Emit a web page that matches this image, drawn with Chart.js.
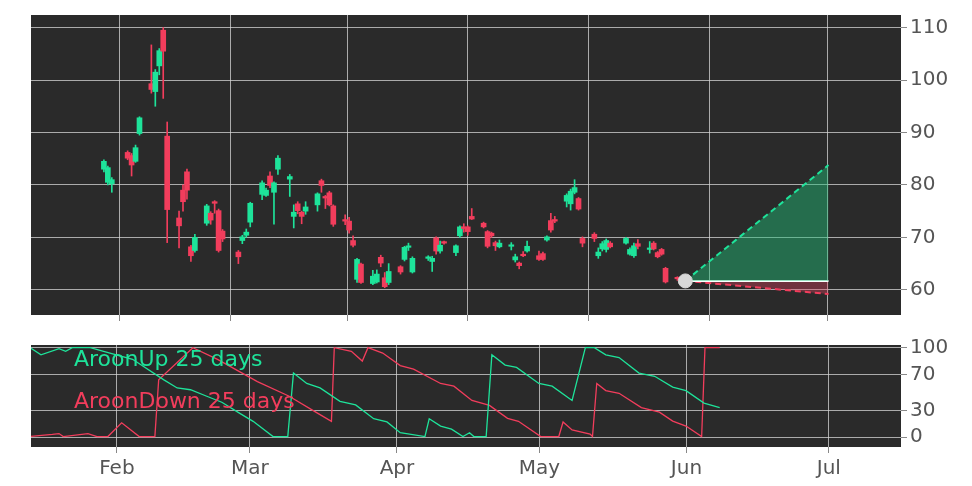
<!DOCTYPE html>
<html><head><meta charset="utf-8">
<script src="https://cdn.jsdelivr.net/npm/chart.js@4.4.1/dist/chart.umd.min.js"></script>
<style>html,body{margin:0;padding:0;background:#fff;width:972px;height:486px;overflow:hidden}
#c1{position:absolute;left:0;top:0}#c2{position:absolute;left:0;top:330px}</style>
</head><body>
<canvas id="c1" width="972" height="330"></canvas>
<canvas id="c2" width="972" height="156"></canvas>
<script>
// day number = days since Jan 1
const days  =[13,14,15,19,20,21,22,25,26,27,28,29,32,33,34,35,36,39,40,41,42,43,47,48,49,50,53,54,55,56,57,60,61,62,63,64,67,68,69,70,71,74,75,76,77,78,81,82,83,84,85,88,89,90,91,95,96,97,98,99,102,103,104,105,106,109,110,111,112,113,116,117,118,119,120,123,124,125,126,127,130,131,132,133,134,137,138,139,140,141,145,146,147,148,151,152,153,154,155,158];
const opens =[83,80.5,80.2,86.2,85.6,84.5,89.8,99.3,97.8,102.7,109.5,89.3,73.7,79,82.5,68.2,67.5,72.7,74.6,76.8,75.1,71.2,67.2,69.4,70.4,72.9,78.2,78,81.7,78.6,83,81.1,74,76.4,74.8,75,76.2,80.8,77.8,78.5,76,73.3,73.1,69.4,62,64.9,61.2,61.5,66.2,62.3,61.4,64.4,65.8,68.1,63.4,66,65.4,69.9,67.4,69.1,67.1,70.3,72,72,74,72.7,71.1,70.8,69,68.2,68.3,65.7,65.1,66.7,67.4,66.5,66.9,69.5,73.2,73.4,76.9,76.4,78.6,77.4,69.8,70.6,66.5,67.8,67.7,68.9,68.9,66.8,66.5,68.8,67.7,68.9,67.1,67.7,64.1,62.2];
const highs =[84.8,83.6,81.4,86.5,86,87.6,93,106.7,102,106,110,92,75,80,83,68.5,70.6,76.3,74.9,77,75.4,71.5,67.5,70.4,71.6,76.7,80.8,79.4,82.5,80.6,85.6,82,76.2,76.8,75,76.8,78.5,81.1,78,78.8,76.2,74.3,73.8,70.3,66,65.1,63.7,63.8,66.6,63.3,65,64.6,68.3,68.9,66.3,66.5,66.4,70.1,69.3,69.3,68.6,72.2,72.6,72.2,75.5,72.9,71.3,71,69.3,69.5,69,66.8,65.3,67.3,69.3,67.4,67.2,70.3,74.6,74,78.3,79.2,81,77.6,70.1,70.9,68,69.2,69.7,69.2,70,68,68.9,69.6,69.2,69.2,67.3,67.9,64.3,62.5];
const lows  =[82.5,80,78.6,84.8,81.7,84.3,89.5,97.5,95,101,96.5,69,68,75,77.3,65.4,67.2,72.3,72.5,74.6,67.2,69.2,65,68.8,70,72,77.2,77.8,79.5,72.5,82,77.8,71.8,74.5,72.6,74.4,75,78.6,75.5,76,72.1,72.4,70.8,68.2,61.4,61.2,61,61.3,64.4,60.4,61,63,65.5,67.5,63.2,65.6,63.5,66.8,67,68.7,66.5,70,71,70.4,73.4,71.8,68,70,67.5,68,67.6,65.3,64,66.3,67.2,65.6,65.6,69.3,71,72.8,75.8,75.2,78.3,75.2,68.2,69.2,66,67.4,67.2,68,68.7,66.6,66.2,67.8,67,67.6,66.1,66.6,61.3,61.8];
const closes=[84.5,83.3,81,85.1,83.8,87.1,92.8,98.2,101.5,105.6,105.5,75.3,72.2,76.8,79,66.5,70,76,73.3,76.5,67.5,69.7,66.3,70.1,71,76.5,80.4,79,79.9,80.4,85.1,81.6,74.8,75.1,74,75.8,78.3,79.9,77.5,76.2,72.5,73.1,71.4,68.5,65.8,61.4,62.6,63,65.1,60.6,63.5,63.4,68.1,68.2,66,66.2,66,67.4,68.5,68.9,68.4,72,71.7,71.1,73.5,72,68.3,70.3,68.4,68.9,68.4,66.3,64.6,66.5,68.3,65.8,65.8,70.1,71.4,73.1,78,78.8,79.5,75.4,68.9,69.8,67.2,68.8,69.4,68.2,69.8,67.7,68.4,68.3,67.8,67.8,66.3,66.8,61.5,62.1];
// forecast
const fcDays=[160,196.2];
const fcUpper=[61.7,83.8];
const fcMid=[61.7,61.7];
const fcLower=[61.7,59.2];
// Aroon
const upDays=[12.7,15,18.8,20.2,21.6,25.4,28.2,34.3,40.9,43.7,46.5,49.8,53.1,56.9,59.7,63.9,67,68.2,71,73.8,78,81.3,85.1,87.9,90.7,95.9,96.8,99.2,101.5,103.9,105.3,106.2,108.8,110,112.8,115.2,119.9,122.7,126.9,129.7,131.6,134,136.8,141,144.3,148.1,150.9,154.7,158];
const upVals=[100,92,99,96,100,100,96,87,64,55,53,46,39,26.6,17.7,0.7,0.7,71.6,60,55,40,36,20.6,17,5,0.7,20.6,12.4,8.9,0.7,5,0.7,0.7,92,80.5,78,60,57,41,100,100,92,89,71.6,68,56,52,38,33];
const dnDays=[12.7,17.4,18.8,19.7,24.9,26.8,29.1,32,35.7,39,39.8,47,52.2,60.6,67.2,72.9,76.2,76.8,80.4,82.7,83.9,87,90.7,93.5,99.2,102,105.8,109.5,113.3,115.6,120.3,124.1,125,126.9,130.7,131.2,132.1,134,136.8,141.5,145.3,148.1,150.9,154.2,154.9,158];
const dnVals=[0.7,3,4,0.7,4,0.7,0.7,16,0.7,0.7,64,100,87,62,46,28,17.7,100,96,85,100,94,80,76,60,57,41,35.5,21,17.7,0.7,0.7,17,8,3.5,0.7,60,52,49,33,28,18,12.4,0.7,100,100];
const monthTicks=[31,59,90,120,151,181];
const monthLabels=['Feb','Mar','Apr','May','Jun','Jul'];
const priceTicks=[60,70,80,90,100,110];
const aroonTicks=[0,30,70,100];

const GREEN='#1ee39a', RED='#f23d5c', TXT='#555';
const bg={id:'bg',beforeDraw(c){const a=c.chartArea,x=c.ctx;x.save();x.fillStyle='#2a2a2a';x.fillRect(a.left,a.top,a.right-a.left,a.bottom-a.top);x.restore();}};
const grid={color:'rgba(215,215,215,0.75)',borderDash:[4,3],lineWidth:1,drawTicks:true,tickLength:6,tickColor:'#888',tickBorderDash:[]};
const col=days.map((d,i)=>closes[i]>=opens[i]?GREEN:RED);
const xMin=12.9,xMax=196.2;
function xScale(showLabels,h){return {type:'linear',min:xMin,max:xMax,afterBuildTicks:s=>{s.ticks=monthTicks.map(v=>({value:v}));},
  grid:grid,border:{display:false},afterFit:s=>{s.height=h;},
  ticks:{display:showLabels,color:TXT,font:{size:20,family:'DejaVu Sans'},padding:4,autoSkip:false,maxRotation:0,callback:v=>{const i=monthTicks.indexOf(v);return i>=0?monthLabels[i]:'';}}};}
function yScale(min,max,ticks){return {position:'right',min:min,max:max,afterBuildTicks:s=>{s.ticks=ticks.map(v=>({value:v}));},
  grid:grid,border:{display:false},afterFit:s=>{s.width=71;},
  ticks:{color:TXT,font:{size:20,family:'DejaVu Sans'},padding:3}};}

new Chart(document.getElementById('c1'),{
  data:{datasets:[
    {type:'bar',data:days.map((d,i)=>({x:d,y:[lows[i],highs[i]]})),backgroundColor:col,barThickness:1,grouped:false,order:3},
    {type:'bar',data:days.map((d,i)=>({x:d,y:[opens[i],closes[i]]})),backgroundColor:col,barThickness:5,grouped:false,minBarLength:1.5,order:2},
    {type:'line',data:fcDays.map((d,i)=>({x:d,y:fcUpper[i]})),borderColor:GREEN,borderDash:[6,4],borderWidth:2,pointRadius:0,fill:'+1',backgroundColor:'rgba(30,190,120,0.45)',order:1},
    {type:'line',data:fcDays.map((d,i)=>({x:d,y:fcMid[i]})),borderColor:'#ffffff',borderWidth:2,pointRadius:0,fill:false,order:1},
    {type:'line',data:fcDays.map((d,i)=>({x:d,y:fcLower[i]})),borderColor:RED,borderDash:[6,4],borderWidth:2,pointRadius:0,fill:'-1',backgroundColor:'rgba(240,70,100,0.35)',order:1},
    {type:'scatter',data:[{x:fcDays[0],y:fcMid[0]}],pointRadius:7,backgroundColor:'#d8d8d8',borderColor:'#d8d8d8',order:0}
  ]},
  options:{responsive:false,animation:false,devicePixelRatio:1,
    layout:{padding:{left:31,top:15,right:0,bottom:0}},
    plugins:{legend:{display:false},tooltip:{enabled:false}},
    scales:{x:xScale(false,7),y:yScale(55.2,112.4,priceTicks)}},
  plugins:[bg]
});

new Chart(document.getElementById('c2'),{
  data:{datasets:[
    {type:'line',data:upDays.map((d,i)=>({x:d,y:upVals[i]})),borderColor:GREEN,borderWidth:1.3,pointRadius:0,tension:0},
    {type:'line',data:dnDays.map((d,i)=>({x:d,y:dnVals[i]})),borderColor:RED,borderWidth:1.3,pointRadius:0,tension:0}
  ]},
  options:{responsive:false,animation:false,devicePixelRatio:1,
    layout:{padding:{left:31,top:8,right:0,bottom:0}},
    plugins:{legend:{display:false},tooltip:{enabled:false}},
    scales:{x:xScale(true,39),y:yScale(-11,103,aroonTicks)}},
  plugins:[bg,{id:'lbl',afterDatasetsDraw(c){const x=c.ctx;x.save();x.font='22px "DejaVu Sans"';x.textBaseline='middle';
    x.fillStyle=GREEN;x.fillText('AroonUp 25 days',74,30);x.fillStyle=RED;x.fillText('AroonDown 25 days',74,72);x.restore();}}]
});
</script>
</body></html>
